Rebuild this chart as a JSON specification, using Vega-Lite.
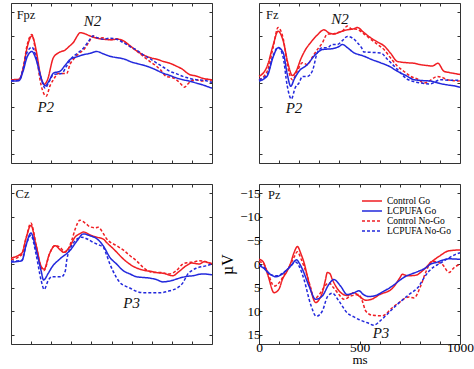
{
"$schema": "https://vega.github.io/schema/vega-lite/v6.json",
"padding": {"left": 7, "top": 2, "right": 0, "bottom": 0},
"autosize": {"type": "pad"},
"bounds": "flush",
"spacing": {"row": 21, "column": 47},
"columns": 2,
"resolve": {"scale": {"color": "independent", "strokeDash": "independent"}},
"datasets": {
"ann": [
{"p":"Fpz","k":"peak","t":406,"v":-13.2,"s":"N2"},
{"p":"Fpz","k":"peak","t":173,"v":5.1,"s":"P2"},
{"p":"Fz","k":"peak","t":403,"v":-13.6,"s":"N2"},
{"p":"Fz","k":"peak","t":174,"v":5.3,"s":"P2"},
{"p":"Cz","k":"peak","t":600,"v":8.3,"s":"P3"},
{"p":"Pz","k":"peak","t":607,"v":14.7,"s":"P3"},
{"p":"Fpz","k":"name","t":28,"v":-14.4,"s":"Fpz"},
{"p":"Fz","k":"name","t":35,"v":-14.4,"s":"Fz"},
{"p":"Cz","k":"name","t":23,"v":-14.9,"s":"Cz"},
{"p":"Pz","k":"name","t":45,"v":-14.7,"s":"Pz"}
],
"erp": [
{"p":"Fpz","c":"Control Go","t":0,"v":-0.7},{"p":"Fpz","c":"Control Go","t":40,"v":-0.8},{"p":"Fpz","c":"Control Go","t":60,"v":-3},{"p":"Fpz","c":"Control Go","t":80,"v":-7.5},{"p":"Fpz","c":"Control Go","t":104,"v":-10},{"p":"Fpz","c":"Control Go","t":125,"v":-7},{"p":"Fpz","c":"Control Go","t":145,"v":-2},{"p":"Fpz","c":"Control Go","t":165,"v":0.3},{"p":"Fpz","c":"Control Go","t":180,"v":-0.5},{"p":"Fpz","c":"Control Go","t":211,"v":-5.4},{"p":"Fpz","c":"Control Go","t":240,"v":-6.5},{"p":"Fpz","c":"Control Go","t":269,"v":-7},{"p":"Fpz","c":"Control Go","t":290,"v":-7.8},{"p":"Fpz","c":"Control Go","t":310,"v":-8.6},{"p":"Fpz","c":"Control Go","t":330,"v":-10},{"p":"Fpz","c":"Control Go","t":343,"v":-10.7},{"p":"Fpz","c":"Control Go","t":365,"v":-10.5},{"p":"Fpz","c":"Control Go","t":393,"v":-10},{"p":"Fpz","c":"Control Go","t":420,"v":-9.6},{"p":"Fpz","c":"Control Go","t":459,"v":-9.3},{"p":"Fpz","c":"Control Go","t":500,"v":-9.2},{"p":"Fpz","c":"Control Go","t":530,"v":-9.3},{"p":"Fpz","c":"Control Go","t":558,"v":-9},{"p":"Fpz","c":"Control Go","t":590,"v":-8},{"p":"Fpz","c":"Control Go","t":620,"v":-7},{"p":"Fpz","c":"Control Go","t":657,"v":-6},{"p":"Fpz","c":"Control Go","t":700,"v":-5.3},{"p":"Fpz","c":"Control Go","t":730,"v":-5},{"p":"Fpz","c":"Control Go","t":756,"v":-4.6},{"p":"Fpz","c":"Control Go","t":790,"v":-4.2},{"p":"Fpz","c":"Control Go","t":822,"v":-3.6},{"p":"Fpz","c":"Control Go","t":850,"v":-3},{"p":"Fpz","c":"Control Go","t":888,"v":-1.8},{"p":"Fpz","c":"Control Go","t":920,"v":-1.5},{"p":"Fpz","c":"Control Go","t":954,"v":-1},{"p":"Fpz","c":"Control Go","t":975,"v":-0.8},{"p":"Fpz","c":"Control Go","t":1000,"v":-0.7},
{"p":"Fpz","c":"Control No-Go","t":0,"v":-0.5},{"p":"Fpz","c":"Control No-Go","t":40,"v":-0.6},{"p":"Fpz","c":"Control No-Go","t":60,"v":-3},{"p":"Fpz","c":"Control No-Go","t":80,"v":-8},{"p":"Fpz","c":"Control No-Go","t":104,"v":-10.3},{"p":"Fpz","c":"Control No-Go","t":125,"v":-6},{"p":"Fpz","c":"Control No-Go","t":150,"v":0.5},{"p":"Fpz","c":"Control No-Go","t":175,"v":2.8},{"p":"Fpz","c":"Control No-Go","t":195,"v":0.5},{"p":"Fpz","c":"Control No-Go","t":211,"v":-0.7},{"p":"Fpz","c":"Control No-Go","t":236,"v":-2},{"p":"Fpz","c":"Control No-Go","t":260,"v":-2},{"p":"Fpz","c":"Control No-Go","t":277,"v":-2},{"p":"Fpz","c":"Control No-Go","t":294,"v":-4},{"p":"Fpz","c":"Control No-Go","t":310,"v":-5},{"p":"Fpz","c":"Control No-Go","t":335,"v":-6.2},{"p":"Fpz","c":"Control No-Go","t":360,"v":-7},{"p":"Fpz","c":"Control No-Go","t":385,"v":-8.5},{"p":"Fpz","c":"Control No-Go","t":409,"v":-10},{"p":"Fpz","c":"Control No-Go","t":430,"v":-9.5},{"p":"Fpz","c":"Control No-Go","t":459,"v":-9.6},{"p":"Fpz","c":"Control No-Go","t":490,"v":-9.2},{"p":"Fpz","c":"Control No-Go","t":525,"v":-9.4},{"p":"Fpz","c":"Control No-Go","t":560,"v":-8.8},{"p":"Fpz","c":"Control No-Go","t":591,"v":-7.8},{"p":"Fpz","c":"Control No-Go","t":625,"v":-6.8},{"p":"Fpz","c":"Control No-Go","t":657,"v":-5.7},{"p":"Fpz","c":"Control No-Go","t":690,"v":-4.6},{"p":"Fpz","c":"Control No-Go","t":723,"v":-3.6},{"p":"Fpz","c":"Control No-Go","t":750,"v":-2.5},{"p":"Fpz","c":"Control No-Go","t":772,"v":-1.4},{"p":"Fpz","c":"Control No-Go","t":800,"v":-1.2},{"p":"Fpz","c":"Control No-Go","t":822,"v":-0.7},{"p":"Fpz","c":"Control No-Go","t":845,"v":0.2},{"p":"Fpz","c":"Control No-Go","t":863,"v":0.9},{"p":"Fpz","c":"Control No-Go","t":880,"v":0.2},{"p":"Fpz","c":"Control No-Go","t":900,"v":-0.5},{"p":"Fpz","c":"Control No-Go","t":921,"v":-0.7},{"p":"Fpz","c":"Control No-Go","t":950,"v":-0.4},{"p":"Fpz","c":"Control No-Go","t":975,"v":-0.8},{"p":"Fpz","c":"Control No-Go","t":1000,"v":-0.4},
{"p":"Fpz","c":"LCPUFA Go","t":0,"v":-0.4},{"p":"Fpz","c":"LCPUFA Go","t":40,"v":-0.5},{"p":"Fpz","c":"LCPUFA Go","t":60,"v":-2.5},{"p":"Fpz","c":"LCPUFA Go","t":80,"v":-5.5},{"p":"Fpz","c":"LCPUFA Go","t":104,"v":-6.7},{"p":"Fpz","c":"LCPUFA Go","t":125,"v":-5},{"p":"Fpz","c":"LCPUFA Go","t":150,"v":-1},{"p":"Fpz","c":"LCPUFA Go","t":170,"v":0.6},{"p":"Fpz","c":"LCPUFA Go","t":190,"v":-0.5},{"p":"Fpz","c":"LCPUFA Go","t":211,"v":-2.1},{"p":"Fpz","c":"LCPUFA Go","t":244,"v":-2.5},{"p":"Fpz","c":"LCPUFA Go","t":270,"v":-3.8},{"p":"Fpz","c":"LCPUFA Go","t":294,"v":-5},{"p":"Fpz","c":"LCPUFA Go","t":330,"v":-5.6},{"p":"Fpz","c":"LCPUFA Go","t":360,"v":-6},{"p":"Fpz","c":"LCPUFA Go","t":393,"v":-6.3},{"p":"Fpz","c":"LCPUFA Go","t":426,"v":-6.7},{"p":"Fpz","c":"LCPUFA Go","t":459,"v":-6.2},{"p":"Fpz","c":"LCPUFA Go","t":492,"v":-5.7},{"p":"Fpz","c":"LCPUFA Go","t":525,"v":-5.4},{"p":"Fpz","c":"LCPUFA Go","t":541,"v":-5.3},{"p":"Fpz","c":"LCPUFA Go","t":570,"v":-5},{"p":"Fpz","c":"LCPUFA Go","t":591,"v":-4.6},{"p":"Fpz","c":"LCPUFA Go","t":630,"v":-4.1},{"p":"Fpz","c":"LCPUFA Go","t":673,"v":-3.6},{"p":"Fpz","c":"LCPUFA Go","t":710,"v":-3},{"p":"Fpz","c":"LCPUFA Go","t":756,"v":-2.1},{"p":"Fpz","c":"LCPUFA Go","t":790,"v":-1.6},{"p":"Fpz","c":"LCPUFA Go","t":822,"v":-1.1},{"p":"Fpz","c":"LCPUFA Go","t":855,"v":-0.7},{"p":"Fpz","c":"LCPUFA Go","t":888,"v":-0.4},{"p":"Fpz","c":"LCPUFA Go","t":921,"v":0},{"p":"Fpz","c":"LCPUFA Go","t":954,"v":0.4},{"p":"Fpz","c":"LCPUFA Go","t":980,"v":0.8},{"p":"Fpz","c":"LCPUFA Go","t":1000,"v":1.1},
{"p":"Fpz","c":"LCPUFA No-Go","t":0,"v":-0.5},{"p":"Fpz","c":"LCPUFA No-Go","t":40,"v":-0.6},{"p":"Fpz","c":"LCPUFA No-Go","t":60,"v":-3},{"p":"Fpz","c":"LCPUFA No-Go","t":80,"v":-6.5},{"p":"Fpz","c":"LCPUFA No-Go","t":104,"v":-7.6},{"p":"Fpz","c":"LCPUFA No-Go","t":125,"v":-5.5},{"p":"Fpz","c":"LCPUFA No-Go","t":150,"v":-1},{"p":"Fpz","c":"LCPUFA No-Go","t":170,"v":1.1},{"p":"Fpz","c":"LCPUFA No-Go","t":190,"v":-0.3},{"p":"Fpz","c":"LCPUFA No-Go","t":211,"v":-1.8},{"p":"Fpz","c":"LCPUFA No-Go","t":252,"v":-2},{"p":"Fpz","c":"LCPUFA No-Go","t":275,"v":-3.5},{"p":"Fpz","c":"LCPUFA No-Go","t":302,"v":-5.3},{"p":"Fpz","c":"LCPUFA No-Go","t":330,"v":-6.3},{"p":"Fpz","c":"LCPUFA No-Go","t":360,"v":-7.4},{"p":"Fpz","c":"LCPUFA No-Go","t":385,"v":-8.8},{"p":"Fpz","c":"LCPUFA No-Go","t":409,"v":-10},{"p":"Fpz","c":"LCPUFA No-Go","t":430,"v":-9.6},{"p":"Fpz","c":"LCPUFA No-Go","t":459,"v":-9.3},{"p":"Fpz","c":"LCPUFA No-Go","t":490,"v":-9.5},{"p":"Fpz","c":"LCPUFA No-Go","t":525,"v":-9.3},{"p":"Fpz","c":"LCPUFA No-Go","t":558,"v":-8.6},{"p":"Fpz","c":"LCPUFA No-Go","t":591,"v":-7.8},{"p":"Fpz","c":"LCPUFA No-Go","t":625,"v":-7},{"p":"Fpz","c":"LCPUFA No-Go","t":657,"v":-6},{"p":"Fpz","c":"LCPUFA No-Go","t":690,"v":-5.2},{"p":"Fpz","c":"LCPUFA No-Go","t":723,"v":-4.3},{"p":"Fpz","c":"LCPUFA No-Go","t":756,"v":-3.4},{"p":"Fpz","c":"LCPUFA No-Go","t":789,"v":-2.5},{"p":"Fpz","c":"LCPUFA No-Go","t":822,"v":-2},{"p":"Fpz","c":"LCPUFA No-Go","t":855,"v":-1.4},{"p":"Fpz","c":"LCPUFA No-Go","t":888,"v":-1},{"p":"Fpz","c":"LCPUFA No-Go","t":921,"v":-0.7},{"p":"Fpz","c":"LCPUFA No-Go","t":954,"v":-0.6},{"p":"Fpz","c":"LCPUFA No-Go","t":1000,"v":-0.1},
{"p":"Fz","c":"Control Go","t":0,"v":-1.4},{"p":"Fz","c":"Control Go","t":41,"v":-3.6},{"p":"Fz","c":"Control Go","t":70,"v":-8},{"p":"Fz","c":"Control Go","t":95,"v":-11},{"p":"Fz","c":"Control Go","t":120,"v":-9},{"p":"Fz","c":"Control Go","t":145,"v":-4},{"p":"Fz","c":"Control Go","t":166,"v":-1.6},{"p":"Fz","c":"Control Go","t":185,"v":-2.5},{"p":"Fz","c":"Control Go","t":207,"v":-5},{"p":"Fz","c":"Control Go","t":230,"v":-7},{"p":"Fz","c":"Control Go","t":257,"v":-8.6},{"p":"Fz","c":"Control Go","t":290,"v":-10.2},{"p":"Fz","c":"Control Go","t":323,"v":-11.3},{"p":"Fz","c":"Control Go","t":350,"v":-10.6},{"p":"Fz","c":"Control Go","t":373,"v":-10.4},{"p":"Fz","c":"Control Go","t":400,"v":-10.8},{"p":"Fz","c":"Control Go","t":439,"v":-11.3},{"p":"Fz","c":"Control Go","t":470,"v":-11.5},{"p":"Fz","c":"Control Go","t":489,"v":-11.8},{"p":"Fz","c":"Control Go","t":520,"v":-10.8},{"p":"Fz","c":"Control Go","t":556,"v":-9.6},{"p":"Fz","c":"Control Go","t":590,"v":-8.7},{"p":"Fz","c":"Control Go","t":622,"v":-7.9},{"p":"Fz","c":"Control Go","t":655,"v":-6.3},{"p":"Fz","c":"Control Go","t":688,"v":-4.6},{"p":"Fz","c":"Control Go","t":738,"v":-4.3},{"p":"Fz","c":"Control Go","t":771,"v":-4.2},{"p":"Fz","c":"Control Go","t":804,"v":-3.9},{"p":"Fz","c":"Control Go","t":840,"v":-3.7},{"p":"Fz","c":"Control Go","t":862,"v":-3.6},{"p":"Fz","c":"Control Go","t":890,"v":-4.2},{"p":"Fz","c":"Control Go","t":920,"v":-2.5},{"p":"Fz","c":"Control Go","t":950,"v":-2.2},{"p":"Fz","c":"Control Go","t":975,"v":-2},{"p":"Fz","c":"Control Go","t":1000,"v":-1.8},
{"p":"Fz","c":"Control No-Go","t":0,"v":-0.7},{"p":"Fz","c":"Control No-Go","t":41,"v":-2.5},{"p":"Fz","c":"Control No-Go","t":70,"v":-7.5},{"p":"Fz","c":"Control No-Go","t":95,"v":-11.8},{"p":"Fz","c":"Control No-Go","t":120,"v":-9.5},{"p":"Fz","c":"Control No-Go","t":145,"v":-3},{"p":"Fz","c":"Control No-Go","t":166,"v":-0.7},{"p":"Fz","c":"Control No-Go","t":190,"v":-2.5},{"p":"Fz","c":"Control No-Go","t":216,"v":-4.3},{"p":"Fz","c":"Control No-Go","t":240,"v":-3.9},{"p":"Fz","c":"Control No-Go","t":265,"v":-5.5},{"p":"Fz","c":"Control No-Go","t":290,"v":-7.1},{"p":"Fz","c":"Control No-Go","t":315,"v":-8.5},{"p":"Fz","c":"Control No-Go","t":340,"v":-10.4},{"p":"Fz","c":"Control No-Go","t":365,"v":-10.4},{"p":"Fz","c":"Control No-Go","t":390,"v":-10.7},{"p":"Fz","c":"Control No-Go","t":415,"v":-11},{"p":"Fz","c":"Control No-Go","t":439,"v":-12.1},{"p":"Fz","c":"Control No-Go","t":460,"v":-11.5},{"p":"Fz","c":"Control No-Go","t":489,"v":-11.4},{"p":"Fz","c":"Control No-Go","t":520,"v":-10.5},{"p":"Fz","c":"Control No-Go","t":556,"v":-9.3},{"p":"Fz","c":"Control No-Go","t":590,"v":-8.2},{"p":"Fz","c":"Control No-Go","t":622,"v":-7.1},{"p":"Fz","c":"Control No-Go","t":655,"v":-5.3},{"p":"Fz","c":"Control No-Go","t":688,"v":-3.6},{"p":"Fz","c":"Control No-Go","t":720,"v":-2.5},{"p":"Fz","c":"Control No-Go","t":755,"v":-1.4},{"p":"Fz","c":"Control No-Go","t":790,"v":-0.8},{"p":"Fz","c":"Control No-Go","t":821,"v":0},{"p":"Fz","c":"Control No-Go","t":850,"v":-0.5},{"p":"Fz","c":"Control No-Go","t":887,"v":-1.4},{"p":"Fz","c":"Control No-Go","t":910,"v":-1.2},{"p":"Fz","c":"Control No-Go","t":937,"v":-0.7},{"p":"Fz","c":"Control No-Go","t":970,"v":-0.5},{"p":"Fz","c":"Control No-Go","t":1000,"v":-0.4},
{"p":"Fz","c":"LCPUFA Go","t":0,"v":-0.4},{"p":"Fz","c":"LCPUFA Go","t":41,"v":-1.5},{"p":"Fz","c":"LCPUFA Go","t":70,"v":-5.5},{"p":"Fz","c":"LCPUFA Go","t":95,"v":-7.5},{"p":"Fz","c":"LCPUFA Go","t":120,"v":-6.5},{"p":"Fz","c":"LCPUFA Go","t":140,"v":-2},{"p":"Fz","c":"LCPUFA Go","t":158,"v":0.7},{"p":"Fz","c":"LCPUFA Go","t":175,"v":-0.8},{"p":"Fz","c":"LCPUFA Go","t":199,"v":-2.5},{"p":"Fz","c":"LCPUFA Go","t":240,"v":-3.9},{"p":"Fz","c":"LCPUFA Go","t":280,"v":-6},{"p":"Fz","c":"LCPUFA Go","t":315,"v":-7.1},{"p":"Fz","c":"LCPUFA Go","t":365,"v":-7.3},{"p":"Fz","c":"LCPUFA Go","t":400,"v":-7.8},{"p":"Fz","c":"LCPUFA Go","t":415,"v":-8.2},{"p":"Fz","c":"LCPUFA Go","t":440,"v":-7.5},{"p":"Fz","c":"LCPUFA Go","t":473,"v":-6.4},{"p":"Fz","c":"LCPUFA Go","t":500,"v":-6},{"p":"Fz","c":"LCPUFA Go","t":522,"v":-5.7},{"p":"Fz","c":"LCPUFA Go","t":560,"v":-5},{"p":"Fz","c":"LCPUFA Go","t":605,"v":-4.3},{"p":"Fz","c":"LCPUFA Go","t":650,"v":-3.5},{"p":"Fz","c":"LCPUFA Go","t":688,"v":-2.5},{"p":"Fz","c":"LCPUFA Go","t":730,"v":-1.6},{"p":"Fz","c":"LCPUFA Go","t":771,"v":-0.7},{"p":"Fz","c":"LCPUFA Go","t":820,"v":-0.5},{"p":"Fz","c":"LCPUFA Go","t":854,"v":-0.4},{"p":"Fz","c":"LCPUFA Go","t":900,"v":0.1},{"p":"Fz","c":"LCPUFA Go","t":937,"v":0.4},{"p":"Fz","c":"LCPUFA Go","t":970,"v":0.6},{"p":"Fz","c":"LCPUFA Go","t":1000,"v":0.9},
{"p":"Fz","c":"LCPUFA No-Go","t":0,"v":-0.7},{"p":"Fz","c":"LCPUFA No-Go","t":41,"v":-1.8},{"p":"Fz","c":"LCPUFA No-Go","t":70,"v":-5.8},{"p":"Fz","c":"LCPUFA No-Go","t":95,"v":-7.6},{"p":"Fz","c":"LCPUFA No-Go","t":120,"v":-5.5},{"p":"Fz","c":"LCPUFA No-Go","t":140,"v":0.5},{"p":"Fz","c":"LCPUFA No-Go","t":161,"v":3.4},{"p":"Fz","c":"LCPUFA No-Go","t":180,"v":1},{"p":"Fz","c":"LCPUFA No-Go","t":199,"v":0},{"p":"Fz","c":"LCPUFA No-Go","t":216,"v":-1.4},{"p":"Fz","c":"LCPUFA No-Go","t":240,"v":-1.4},{"p":"Fz","c":"LCPUFA No-Go","t":265,"v":-2.5},{"p":"Fz","c":"LCPUFA No-Go","t":290,"v":-6.4},{"p":"Fz","c":"LCPUFA No-Go","t":315,"v":-7.5},{"p":"Fz","c":"LCPUFA No-Go","t":340,"v":-7.5},{"p":"Fz","c":"LCPUFA No-Go","t":365,"v":-8.2},{"p":"Fz","c":"LCPUFA No-Go","t":390,"v":-8.2},{"p":"Fz","c":"LCPUFA No-Go","t":415,"v":-9},{"p":"Fz","c":"LCPUFA No-Go","t":439,"v":-9.9},{"p":"Fz","c":"LCPUFA No-Go","t":470,"v":-9.4},{"p":"Fz","c":"LCPUFA No-Go","t":489,"v":-8.6},{"p":"Fz","c":"LCPUFA No-Go","t":510,"v":-7.5},{"p":"Fz","c":"LCPUFA No-Go","t":522,"v":-6.6},{"p":"Fz","c":"LCPUFA No-Go","t":560,"v":-6.5},{"p":"Fz","c":"LCPUFA No-Go","t":605,"v":-6.4},{"p":"Fz","c":"LCPUFA No-Go","t":640,"v":-5},{"p":"Fz","c":"LCPUFA No-Go","t":688,"v":-2.9},{"p":"Fz","c":"LCPUFA No-Go","t":738,"v":-0.8},{"p":"Fz","c":"LCPUFA No-Go","t":771,"v":-0.3},{"p":"Fz","c":"LCPUFA No-Go","t":804,"v":0},{"p":"Fz","c":"LCPUFA No-Go","t":850,"v":0.2},{"p":"Fz","c":"LCPUFA No-Go","t":904,"v":-0.7},{"p":"Fz","c":"LCPUFA No-Go","t":950,"v":-0.6},{"p":"Fz","c":"LCPUFA No-Go","t":1000,"v":-0.6},
{"p":"Cz","c":"Control Go","t":0,"v":-1.3},{"p":"Cz","c":"Control Go","t":54,"v":-2.3},{"p":"Cz","c":"Control Go","t":75,"v":-5.5},{"p":"Cz","c":"Control Go","t":99,"v":-8.2},{"p":"Cz","c":"Control Go","t":125,"v":-4},{"p":"Cz","c":"Control Go","t":150,"v":0.5},{"p":"Cz","c":"Control Go","t":165,"v":1.1},{"p":"Cz","c":"Control Go","t":190,"v":-2},{"p":"Cz","c":"Control Go","t":219,"v":-3.9},{"p":"Cz","c":"Control Go","t":245,"v":-3},{"p":"Cz","c":"Control Go","t":261,"v":-2.5},{"p":"Cz","c":"Control Go","t":290,"v":-3.5},{"p":"Cz","c":"Control Go","t":318,"v":-5.7},{"p":"Cz","c":"Control Go","t":345,"v":-6.5},{"p":"Cz","c":"Control Go","t":360,"v":-6.8},{"p":"Cz","c":"Control Go","t":393,"v":-6.2},{"p":"Cz","c":"Control Go","t":426,"v":-5.7},{"p":"Cz","c":"Control Go","t":459,"v":-5.3},{"p":"Cz","c":"Control Go","t":475,"v":-4.6},{"p":"Cz","c":"Control Go","t":510,"v":-3.2},{"p":"Cz","c":"Control Go","t":558,"v":-1.1},{"p":"Cz","c":"Control Go","t":600,"v":0.3},{"p":"Cz","c":"Control Go","t":657,"v":1.3},{"p":"Cz","c":"Control Go","t":700,"v":1.6},{"p":"Cz","c":"Control Go","t":723,"v":1.8},{"p":"Cz","c":"Control Go","t":760,"v":2},{"p":"Cz","c":"Control Go","t":805,"v":2.5},{"p":"Cz","c":"Control Go","t":830,"v":1.8},{"p":"Cz","c":"Control Go","t":871,"v":0.4},{"p":"Cz","c":"Control Go","t":900,"v":-0.2},{"p":"Cz","c":"Control Go","t":937,"v":0},{"p":"Cz","c":"Control Go","t":962,"v":-0.5},{"p":"Cz","c":"Control Go","t":980,"v":-0.3},{"p":"Cz","c":"Control Go","t":1000,"v":-0.1},
{"p":"Cz","c":"Control No-Go","t":0,"v":-0.9},{"p":"Cz","c":"Control No-Go","t":54,"v":-2},{"p":"Cz","c":"Control No-Go","t":75,"v":-5.5},{"p":"Cz","c":"Control No-Go","t":99,"v":-8.7},{"p":"Cz","c":"Control No-Go","t":125,"v":-4},{"p":"Cz","c":"Control No-Go","t":150,"v":0.8},{"p":"Cz","c":"Control No-Go","t":165,"v":1.4},{"p":"Cz","c":"Control No-Go","t":190,"v":-2},{"p":"Cz","c":"Control No-Go","t":219,"v":-3.9},{"p":"Cz","c":"Control No-Go","t":245,"v":-3.5},{"p":"Cz","c":"Control No-Go","t":269,"v":-2.5},{"p":"Cz","c":"Control No-Go","t":302,"v":-5},{"p":"Cz","c":"Control No-Go","t":320,"v":-7.5},{"p":"Cz","c":"Control No-Go","t":343,"v":-9.3},{"p":"Cz","c":"Control No-Go","t":375,"v":-8.5},{"p":"Cz","c":"Control No-Go","t":393,"v":-7.9},{"p":"Cz","c":"Control No-Go","t":420,"v":-7.7},{"p":"Cz","c":"Control No-Go","t":434,"v":-7.8},{"p":"Cz","c":"Control No-Go","t":459,"v":-6.5},{"p":"Cz","c":"Control No-Go","t":475,"v":-5.4},{"p":"Cz","c":"Control No-Go","t":525,"v":-3.9},{"p":"Cz","c":"Control No-Go","t":558,"v":-3},{"p":"Cz","c":"Control No-Go","t":591,"v":-1.8},{"p":"Cz","c":"Control No-Go","t":624,"v":-0.7},{"p":"Cz","c":"Control No-Go","t":657,"v":0.7},{"p":"Cz","c":"Control No-Go","t":690,"v":1.6},{"p":"Cz","c":"Control No-Go","t":706,"v":1.8},{"p":"Cz","c":"Control No-Go","t":740,"v":1.8},{"p":"Cz","c":"Control No-Go","t":789,"v":2.1},{"p":"Cz","c":"Control No-Go","t":820,"v":1.5},{"p":"Cz","c":"Control No-Go","t":855,"v":0},{"p":"Cz","c":"Control No-Go","t":880,"v":-0.3},{"p":"Cz","c":"Control No-Go","t":904,"v":-0.4},{"p":"Cz","c":"Control No-Go","t":937,"v":-0.7},{"p":"Cz","c":"Control No-Go","t":970,"v":-0.5},{"p":"Cz","c":"Control No-Go","t":1000,"v":0},
{"p":"Cz","c":"LCPUFA Go","t":0,"v":-0.4},{"p":"Cz","c":"LCPUFA Go","t":54,"v":-0.7},{"p":"Cz","c":"LCPUFA Go","t":75,"v":-4},{"p":"Cz","c":"LCPUFA Go","t":99,"v":-6.6},{"p":"Cz","c":"LCPUFA Go","t":125,"v":-3},{"p":"Cz","c":"LCPUFA Go","t":150,"v":1.5},{"p":"Cz","c":"LCPUFA Go","t":162,"v":3.4},{"p":"Cz","c":"LCPUFA Go","t":185,"v":2},{"p":"Cz","c":"LCPUFA Go","t":203,"v":0.7},{"p":"Cz","c":"LCPUFA Go","t":244,"v":-1.1},{"p":"Cz","c":"LCPUFA Go","t":294,"v":-2.9},{"p":"Cz","c":"LCPUFA Go","t":330,"v":-5},{"p":"Cz","c":"LCPUFA Go","t":360,"v":-6.4},{"p":"Cz","c":"LCPUFA Go","t":393,"v":-6},{"p":"Cz","c":"LCPUFA Go","t":426,"v":-5.4},{"p":"Cz","c":"LCPUFA Go","t":460,"v":-3.8},{"p":"Cz","c":"LCPUFA Go","t":492,"v":-1.4},{"p":"Cz","c":"LCPUFA Go","t":525,"v":0},{"p":"Cz","c":"LCPUFA Go","t":558,"v":1.4},{"p":"Cz","c":"LCPUFA Go","t":591,"v":2.1},{"p":"Cz","c":"LCPUFA Go","t":624,"v":2.7},{"p":"Cz","c":"LCPUFA Go","t":690,"v":3},{"p":"Cz","c":"LCPUFA Go","t":723,"v":3.3},{"p":"Cz","c":"LCPUFA Go","t":756,"v":3.8},{"p":"Cz","c":"LCPUFA Go","t":800,"v":3.5},{"p":"Cz","c":"LCPUFA Go","t":838,"v":3},{"p":"Cz","c":"LCPUFA Go","t":880,"v":2.6},{"p":"Cz","c":"LCPUFA Go","t":904,"v":2.5},{"p":"Cz","c":"LCPUFA Go","t":954,"v":2.1},{"p":"Cz","c":"LCPUFA Go","t":1000,"v":2.3},
{"p":"Cz","c":"LCPUFA No-Go","t":0,"v":-0.6},{"p":"Cz","c":"LCPUFA No-Go","t":54,"v":-0.8},{"p":"Cz","c":"LCPUFA No-Go","t":75,"v":-4},{"p":"Cz","c":"LCPUFA No-Go","t":99,"v":-6.1},{"p":"Cz","c":"LCPUFA No-Go","t":125,"v":-2},{"p":"Cz","c":"LCPUFA No-Go","t":150,"v":3.5},{"p":"Cz","c":"LCPUFA No-Go","t":165,"v":5.4},{"p":"Cz","c":"LCPUFA No-Go","t":185,"v":3.5},{"p":"Cz","c":"LCPUFA No-Go","t":203,"v":2.7},{"p":"Cz","c":"LCPUFA No-Go","t":230,"v":2.7},{"p":"Cz","c":"LCPUFA No-Go","t":252,"v":2.7},{"p":"Cz","c":"LCPUFA No-Go","t":270,"v":1.5},{"p":"Cz","c":"LCPUFA No-Go","t":277,"v":-0.7},{"p":"Cz","c":"LCPUFA No-Go","t":302,"v":-3.9},{"p":"Cz","c":"LCPUFA No-Go","t":351,"v":-5.7},{"p":"Cz","c":"LCPUFA No-Go","t":380,"v":-5.3},{"p":"Cz","c":"LCPUFA No-Go","t":409,"v":-4.6},{"p":"Cz","c":"LCPUFA No-Go","t":440,"v":-4},{"p":"Cz","c":"LCPUFA No-Go","t":459,"v":-3.6},{"p":"Cz","c":"LCPUFA No-Go","t":475,"v":-2},{"p":"Cz","c":"LCPUFA No-Go","t":492,"v":0},{"p":"Cz","c":"LCPUFA No-Go","t":520,"v":2.5},{"p":"Cz","c":"LCPUFA No-Go","t":541,"v":3.9},{"p":"Cz","c":"LCPUFA No-Go","t":575,"v":4.8},{"p":"Cz","c":"LCPUFA No-Go","t":591,"v":5.1},{"p":"Cz","c":"LCPUFA No-Go","t":624,"v":5.8},{"p":"Cz","c":"LCPUFA No-Go","t":657,"v":6.1},{"p":"Cz","c":"LCPUFA No-Go","t":700,"v":6.1},{"p":"Cz","c":"LCPUFA No-Go","t":739,"v":6.1},{"p":"Cz","c":"LCPUFA No-Go","t":789,"v":5.7},{"p":"Cz","c":"LCPUFA No-Go","t":830,"v":5},{"p":"Cz","c":"LCPUFA No-Go","t":855,"v":4},{"p":"Cz","c":"LCPUFA No-Go","t":880,"v":2.1},{"p":"Cz","c":"LCPUFA No-Go","t":900,"v":1.4},{"p":"Cz","c":"LCPUFA No-Go","t":921,"v":0.9},{"p":"Cz","c":"LCPUFA No-Go","t":970,"v":0.4},{"p":"Cz","c":"LCPUFA No-Go","t":1000,"v":0},
{"p":"Pz","c":"Control Go","t":0,"v":-1},{"p":"Pz","c":"Control Go","t":20,"v":-0.5},{"p":"Pz","c":"Control Go","t":45,"v":2.5},{"p":"Pz","c":"Control Go","t":75,"v":6.1},{"p":"Pz","c":"Control Go","t":100,"v":5.3},{"p":"Pz","c":"Control Go","t":116,"v":3.3},{"p":"Pz","c":"Control Go","t":140,"v":1.5},{"p":"Pz","c":"Control Go","t":158,"v":-0.3},{"p":"Pz","c":"Control Go","t":175,"v":-2.5},{"p":"Pz","c":"Control Go","t":191,"v":-3.7},{"p":"Pz","c":"Control Go","t":210,"v":-2},{"p":"Pz","c":"Control Go","t":224,"v":-0.3},{"p":"Pz","c":"Control Go","t":240,"v":2.5},{"p":"Pz","c":"Control Go","t":257,"v":5.4},{"p":"Pz","c":"Control Go","t":282,"v":8.2},{"p":"Pz","c":"Control Go","t":300,"v":7.5},{"p":"Pz","c":"Control Go","t":315,"v":6.1},{"p":"Pz","c":"Control Go","t":330,"v":3.5},{"p":"Pz","c":"Control Go","t":340,"v":1.8},{"p":"Pz","c":"Control Go","t":352,"v":2},{"p":"Pz","c":"Control Go","t":365,"v":3.3},{"p":"Pz","c":"Control Go","t":398,"v":5.7},{"p":"Pz","c":"Control Go","t":439,"v":6.7},{"p":"Pz","c":"Control Go","t":473,"v":6.1},{"p":"Pz","c":"Control Go","t":497,"v":6.8},{"p":"Pz","c":"Control Go","t":531,"v":7.7},{"p":"Pz","c":"Control Go","t":560,"v":7.5},{"p":"Pz","c":"Control Go","t":600,"v":6.5},{"p":"Pz","c":"Control Go","t":663,"v":5.2},{"p":"Pz","c":"Control Go","t":700,"v":3},{"p":"Pz","c":"Control Go","t":713,"v":2.2},{"p":"Pz","c":"Control Go","t":740,"v":2.5},{"p":"Pz","c":"Control Go","t":779,"v":2.4},{"p":"Pz","c":"Control Go","t":812,"v":1.5},{"p":"Pz","c":"Control Go","t":854,"v":-0.3},{"p":"Pz","c":"Control Go","t":895,"v":-1.6},{"p":"Pz","c":"Control Go","t":945,"v":-2.8},{"p":"Pz","c":"Control Go","t":1000,"v":-3},
{"p":"Pz","c":"Control No-Go","t":0,"v":-0.5},{"p":"Pz","c":"Control No-Go","t":20,"v":-0.2},{"p":"Pz","c":"Control No-Go","t":45,"v":2},{"p":"Pz","c":"Control No-Go","t":75,"v":4.7},{"p":"Pz","c":"Control No-Go","t":100,"v":4},{"p":"Pz","c":"Control No-Go","t":125,"v":2.3},{"p":"Pz","c":"Control No-Go","t":158,"v":0},{"p":"Pz","c":"Control No-Go","t":175,"v":-1.5},{"p":"Pz","c":"Control No-Go","t":191,"v":-2.6},{"p":"Pz","c":"Control No-Go","t":210,"v":-1},{"p":"Pz","c":"Control No-Go","t":232,"v":1.5},{"p":"Pz","c":"Control No-Go","t":257,"v":5},{"p":"Pz","c":"Control No-Go","t":274,"v":7.4},{"p":"Pz","c":"Control No-Go","t":300,"v":6.5},{"p":"Pz","c":"Control No-Go","t":315,"v":5.5},{"p":"Pz","c":"Control No-Go","t":348,"v":4},{"p":"Pz","c":"Control No-Go","t":370,"v":5},{"p":"Pz","c":"Control No-Go","t":398,"v":6.5},{"p":"Pz","c":"Control No-Go","t":423,"v":7.5},{"p":"Pz","c":"Control No-Go","t":456,"v":6.8},{"p":"Pz","c":"Control No-Go","t":497,"v":6.5},{"p":"Pz","c":"Control No-Go","t":515,"v":8},{"p":"Pz","c":"Control No-Go","t":531,"v":10},{"p":"Pz","c":"Control No-Go","t":564,"v":10.9},{"p":"Pz","c":"Control No-Go","t":614,"v":11},{"p":"Pz","c":"Control No-Go","t":663,"v":9.3},{"p":"Pz","c":"Control No-Go","t":696,"v":8.2},{"p":"Pz","c":"Control No-Go","t":746,"v":7},{"p":"Pz","c":"Control No-Go","t":771,"v":7.2},{"p":"Pz","c":"Control No-Go","t":804,"v":4.7},{"p":"Pz","c":"Control No-Go","t":829,"v":1.8},{"p":"Pz","c":"Control No-Go","t":862,"v":-0.6},{"p":"Pz","c":"Control No-Go","t":912,"v":0.1},{"p":"Pz","c":"Control No-Go","t":945,"v":1.8},{"p":"Pz","c":"Control No-Go","t":970,"v":0.8},{"p":"Pz","c":"Control No-Go","t":1000,"v":0},
{"p":"Pz","c":"LCPUFA Go","t":0,"v":0.3},{"p":"Pz","c":"LCPUFA Go","t":20,"v":0.8},{"p":"Pz","c":"LCPUFA Go","t":50,"v":2},{"p":"Pz","c":"LCPUFA Go","t":83,"v":2.7},{"p":"Pz","c":"LCPUFA Go","t":110,"v":2.3},{"p":"Pz","c":"LCPUFA Go","t":133,"v":1.5},{"p":"Pz","c":"LCPUFA Go","t":160,"v":0.3},{"p":"Pz","c":"LCPUFA Go","t":187,"v":-0.9},{"p":"Pz","c":"LCPUFA Go","t":200,"v":-0.2},{"p":"Pz","c":"LCPUFA Go","t":216,"v":1.1},{"p":"Pz","c":"LCPUFA Go","t":249,"v":4.7},{"p":"Pz","c":"LCPUFA Go","t":282,"v":7.5},{"p":"Pz","c":"LCPUFA Go","t":315,"v":6.8},{"p":"Pz","c":"LCPUFA Go","t":348,"v":4.3},{"p":"Pz","c":"LCPUFA Go","t":373,"v":3.3},{"p":"Pz","c":"LCPUFA Go","t":406,"v":4.7},{"p":"Pz","c":"LCPUFA Go","t":439,"v":6.5},{"p":"Pz","c":"LCPUFA Go","t":473,"v":6.1},{"p":"Pz","c":"LCPUFA Go","t":497,"v":5.7},{"p":"Pz","c":"LCPUFA Go","t":520,"v":6.5},{"p":"Pz","c":"LCPUFA Go","t":547,"v":6.9},{"p":"Pz","c":"LCPUFA Go","t":580,"v":6.7},{"p":"Pz","c":"LCPUFA Go","t":620,"v":5.8},{"p":"Pz","c":"LCPUFA Go","t":663,"v":4.7},{"p":"Pz","c":"LCPUFA Go","t":696,"v":3.6},{"p":"Pz","c":"LCPUFA Go","t":730,"v":2.6},{"p":"Pz","c":"LCPUFA Go","t":760,"v":2.1},{"p":"Pz","c":"LCPUFA Go","t":796,"v":1.5},{"p":"Pz","c":"LCPUFA Go","t":830,"v":0.8},{"p":"Pz","c":"LCPUFA Go","t":854,"v":0},{"p":"Pz","c":"LCPUFA Go","t":880,"v":-0.3},{"p":"Pz","c":"LCPUFA Go","t":912,"v":-0.8},{"p":"Pz","c":"LCPUFA Go","t":945,"v":-1.1},{"p":"Pz","c":"LCPUFA Go","t":1000,"v":-1},
{"p":"Pz","c":"LCPUFA No-Go","t":0,"v":0.3},{"p":"Pz","c":"LCPUFA No-Go","t":20,"v":0.5},{"p":"Pz","c":"LCPUFA No-Go","t":40,"v":1.5},{"p":"Pz","c":"LCPUFA No-Go","t":66,"v":2.4},{"p":"Pz","c":"LCPUFA No-Go","t":90,"v":2.5},{"p":"Pz","c":"LCPUFA No-Go","t":116,"v":2},{"p":"Pz","c":"LCPUFA No-Go","t":150,"v":0.8},{"p":"Pz","c":"LCPUFA No-Go","t":182,"v":-0.4},{"p":"Pz","c":"LCPUFA No-Go","t":200,"v":0.5},{"p":"Pz","c":"LCPUFA No-Go","t":224,"v":3.3},{"p":"Pz","c":"LCPUFA No-Go","t":257,"v":8.6},{"p":"Pz","c":"LCPUFA No-Go","t":285,"v":11.1},{"p":"Pz","c":"LCPUFA No-Go","t":315,"v":10},{"p":"Pz","c":"LCPUFA No-Go","t":340,"v":7},{"p":"Pz","c":"LCPUFA No-Go","t":365,"v":6.2},{"p":"Pz","c":"LCPUFA No-Go","t":398,"v":7.9},{"p":"Pz","c":"LCPUFA No-Go","t":439,"v":10.4},{"p":"Pz","c":"LCPUFA No-Go","t":470,"v":11.2},{"p":"Pz","c":"LCPUFA No-Go","t":497,"v":11.8},{"p":"Pz","c":"LCPUFA No-Go","t":540,"v":12.5},{"p":"Pz","c":"LCPUFA No-Go","t":572,"v":13},{"p":"Pz","c":"LCPUFA No-Go","t":600,"v":12.2},{"p":"Pz","c":"LCPUFA No-Go","t":630,"v":11},{"p":"Pz","c":"LCPUFA No-Go","t":680,"v":8.9},{"p":"Pz","c":"LCPUFA No-Go","t":746,"v":6.5},{"p":"Pz","c":"LCPUFA No-Go","t":796,"v":4.7},{"p":"Pz","c":"LCPUFA No-Go","t":820,"v":3},{"p":"Pz","c":"LCPUFA No-Go","t":846,"v":1.5},{"p":"Pz","c":"LCPUFA No-Go","t":870,"v":0.6},{"p":"Pz","c":"LCPUFA No-Go","t":895,"v":0},{"p":"Pz","c":"LCPUFA No-Go","t":945,"v":-1.3},{"p":"Pz","c":"LCPUFA No-Go","t":975,"v":-2},{"p":"Pz","c":"LCPUFA No-Go","t":1000,"v":-2.4}
]
},
"concat": [
{
"width": 201, "height": 160,
"layer": [
{"mark": {"type": "rule", "color": "#555", "strokeWidth": 1}, "encoding": {"y": {"datum": 0, "type": "quantitative", "scale": {"domain": [-17, 17], "reverse": true, "nice": false, "zero": false}, "axis": {"orient": "right", "values": [-15,-10,-5,0,5,10,15], "labels": false, "title": null}}}},
{"data": {"name": "erp"}, "transform": [{"filter": "datum.p === 'Fpz'"}],
 "mark": {"type": "line", "interpolate": "monotone", "strokeWidth": 1.5},
 "encoding": {
  "x": {"field": "t", "type": "quantitative", "scale": {"domain": [0, 1000], "nice": false}, "axis": {"orient": "bottom", "values": [0,100,200,300,400,500,600,700,800,900,1000], "labels": false, "title": null}},
  "y": {"field": "v", "type": "quantitative", "axis": {"orient": "left", "values": [-15,-10,-5,0,5,10,15], "labels": false, "title": null}},
  "color": {"field": "c", "type": "nominal", "scale": {"domain": ["Control Go","LCPUFA Go","Control No-Go","LCPUFA No-Go"], "range": ["#f01e23","#2228dc","#f01e23","#2228dc"]}, "legend": null},
  "strokeDash": {"field": "c", "type": "nominal", "scale": {"domain": ["Control Go","LCPUFA Go","Control No-Go","LCPUFA No-Go"], "range": [[1,0],[1,0],[3,2],[3,2]]}, "legend": null}
 }},
{"data": {"name": "ann"}, "transform": [{"filter": "datum.p === 'Fpz' && datum.k === 'peak'"}],
 "mark": {"type": "text", "font": "Liberation Serif", "fontStyle": "italic", "fontSize": 15, "color": "#111"},
 "encoding": {
  "x": {"field": "t", "type": "quantitative", "axis": {"orient": "top", "values": [0,100,200,300,400,500,600,700,800,900,1000], "labels": false, "title": null}},
  "y": {"field": "v", "type": "quantitative", "axis": null},
  "text": {"field": "s"}
 }},
{"data": {"name": "ann"}, "transform": [{"filter": "datum.p === 'Fpz' && datum.k === 'name'"}],
 "mark": {"type": "text", "font": "Liberation Serif", "fontSize": 12.5, "align": "left", "color": "#111"},
 "encoding": {
  "x": {"field": "t", "type": "quantitative", "axis": null},
  "y": {"field": "v", "type": "quantitative", "axis": null},
  "text": {"field": "s"}
 }}
],
"resolve": {"axis": {"x": "independent", "y": "independent"}}
},
{
"width": 201, "height": 160,
"layer": [
{"mark": {"type": "rule", "color": "#555", "strokeWidth": 1}, "encoding": {"y": {"datum": 0, "type": "quantitative", "scale": {"domain": [-17, 17], "reverse": true, "nice": false, "zero": false}, "axis": {"orient": "right", "values": [-15,-10,-5,0,5,10,15], "labels": false, "title": null}}}},
{"data": {"name": "erp"}, "transform": [{"filter": "datum.p === 'Fz'"}],
 "mark": {"type": "line", "interpolate": "monotone", "strokeWidth": 1.5},
 "encoding": {
  "x": {"field": "t", "type": "quantitative", "scale": {"domain": [0, 1000], "nice": false}, "axis": {"orient": "bottom", "values": [0,100,200,300,400,500,600,700,800,900,1000], "labels": false, "title": null}},
  "y": {"field": "v", "type": "quantitative", "axis": {"orient": "left", "values": [-15,-10,-5,0,5,10,15], "labels": false, "title": null}},
  "color": {"field": "c", "type": "nominal", "scale": {"domain": ["Control Go","LCPUFA Go","Control No-Go","LCPUFA No-Go"], "range": ["#f01e23","#2228dc","#f01e23","#2228dc"]}, "legend": null},
  "strokeDash": {"field": "c", "type": "nominal", "scale": {"domain": ["Control Go","LCPUFA Go","Control No-Go","LCPUFA No-Go"], "range": [[1,0],[1,0],[3,2],[3,2]]}, "legend": null}
 }},
{"data": {"name": "ann"}, "transform": [{"filter": "datum.p === 'Fz' && datum.k === 'peak'"}],
 "mark": {"type": "text", "font": "Liberation Serif", "fontStyle": "italic", "fontSize": 15, "color": "#111"},
 "encoding": {
  "x": {"field": "t", "type": "quantitative", "axis": {"orient": "top", "values": [0,100,200,300,400,500,600,700,800,900,1000], "labels": false, "title": null}},
  "y": {"field": "v", "type": "quantitative", "axis": null},
  "text": {"field": "s"}
 }},
{"data": {"name": "ann"}, "transform": [{"filter": "datum.p === 'Fz' && datum.k === 'name'"}],
 "mark": {"type": "text", "font": "Liberation Serif", "fontSize": 12.5, "align": "left", "color": "#111"},
 "encoding": {
  "x": {"field": "t", "type": "quantitative", "axis": null},
  "y": {"field": "v", "type": "quantitative", "axis": null},
  "text": {"field": "s"}
 }}
],
"resolve": {"axis": {"x": "independent", "y": "independent"}}
},
{
"width": 201, "height": 160,
"layer": [
{"mark": {"type": "rule", "color": "#555", "strokeWidth": 1}, "encoding": {"y": {"datum": 0, "type": "quantitative", "scale": {"domain": [-17, 17], "reverse": true, "nice": false, "zero": false}, "axis": {"orient": "right", "values": [-15,-10,-5,0,5,10,15], "labels": false, "title": null}}}},
{"data": {"name": "erp"}, "transform": [{"filter": "datum.p === 'Cz'"}],
 "mark": {"type": "line", "interpolate": "monotone", "strokeWidth": 1.5},
 "encoding": {
  "x": {"field": "t", "type": "quantitative", "scale": {"domain": [0, 1000], "nice": false}, "axis": {"orient": "bottom", "values": [0,100,200,300,400,500,600,700,800,900,1000], "labels": false, "title": null}},
  "y": {"field": "v", "type": "quantitative", "axis": {"orient": "left", "values": [-15,-10,-5,0,5,10,15], "labels": false, "title": null}},
  "color": {"field": "c", "type": "nominal", "scale": {"domain": ["Control Go","LCPUFA Go","Control No-Go","LCPUFA No-Go"], "range": ["#f01e23","#2228dc","#f01e23","#2228dc"]}, "legend": null},
  "strokeDash": {"field": "c", "type": "nominal", "scale": {"domain": ["Control Go","LCPUFA Go","Control No-Go","LCPUFA No-Go"], "range": [[1,0],[1,0],[3,2],[3,2]]}, "legend": null}
 }},
{"data": {"name": "ann"}, "transform": [{"filter": "datum.p === 'Cz' && datum.k === 'peak'"}],
 "mark": {"type": "text", "font": "Liberation Serif", "fontStyle": "italic", "fontSize": 15, "color": "#111"},
 "encoding": {
  "x": {"field": "t", "type": "quantitative", "axis": {"orient": "top", "values": [0,100,200,300,400,500,600,700,800,900,1000], "labels": false, "title": null}},
  "y": {"field": "v", "type": "quantitative", "axis": null},
  "text": {"field": "s"}
 }},
{"data": {"name": "ann"}, "transform": [{"filter": "datum.p === 'Cz' && datum.k === 'name'"}],
 "mark": {"type": "text", "font": "Liberation Serif", "fontSize": 12.5, "align": "left", "color": "#111"},
 "encoding": {
  "x": {"field": "t", "type": "quantitative", "axis": null},
  "y": {"field": "v", "type": "quantitative", "axis": null},
  "text": {"field": "s"}
 }}
],
"resolve": {"axis": {"x": "independent", "y": "independent"}}
},
{
"width": 201, "height": 160,
"layer": [
{"mark": {"type": "rule", "color": "#555", "strokeWidth": 1}, "encoding": {"y": {"datum": 0, "type": "quantitative", "scale": {"domain": [-17, 17], "reverse": true, "nice": false, "zero": false}, "axis": {"orient": "right", "values": [-15,-10,-5,0,5,10,15], "labels": false, "title": null}}}},
{"data": {"name": "erp"}, "transform": [{"filter": "datum.p === 'Pz'"}],
 "mark": {"type": "line", "interpolate": "monotone", "strokeWidth": 1.5},
 "encoding": {
  "x": {"field": "t", "type": "quantitative", "scale": {"domain": [0, 1000], "nice": false}, "axis": {"orient": "bottom", "values": [0,100,200,300,400,500,600,700,800,900,1000], "format": "d", "labels": true, "labelFlush": false, "labelPadding": -1, "labelFontSize": 13.5, "labelExpr": "datum.value % 500 === 0 ? datum.label : ''", "title": "ms", "titleFontSize": 13, "titlePadding": 0}},
  "y": {"field": "v", "type": "quantitative", "axis": {"orient": "left", "values": [-15,-10,-5,0,5,10,15], "labels": true, "labelFlush": false, "labelPadding": 2, "labelFontSize": 13, "title": "µV", "titleFontSize": 16, "titlePadding": 4}},
  "color": {"field": "c", "type": "nominal", "scale": {"domain": ["Control Go","LCPUFA Go","Control No-Go","LCPUFA No-Go"], "range": ["#f01e23","#2228dc","#f01e23","#2228dc"]},
   "legend": {"orient": "none", "legendX": 108, "legendY": 12, "title": null, "symbolType": "M-2.5,0H2.5", "symbolSize": 64, "symbolStrokeWidth": 1.5, "labelFont": "Liberation Serif", "labelFontSize": 9.5, "labelOffset": 10, "rowPadding": -1, "padding": 0}},
  "strokeDash": {"field": "c", "type": "nominal", "scale": {"domain": ["Control Go","LCPUFA Go","Control No-Go","LCPUFA No-Go"], "range": [[1,0],[1,0],[3,2],[3,2]]},
   "legend": {"orient": "none", "legendX": 108, "legendY": 12, "title": null, "symbolType": "M-2.5,0H2.5", "symbolSize": 64, "symbolStrokeWidth": 1.5, "labelFont": "Liberation Serif", "labelFontSize": 9.5, "labelOffset": 10, "rowPadding": -1, "padding": 0}}
 }},
{"data": {"name": "ann"}, "transform": [{"filter": "datum.p === 'Pz' && datum.k === 'peak'"}],
 "mark": {"type": "text", "font": "Liberation Serif", "fontStyle": "italic", "fontSize": 15, "color": "#111"},
 "encoding": {
  "x": {"field": "t", "type": "quantitative", "axis": {"orient": "top", "values": [0,100,200,300,400,500,600,700,800,900,1000], "labels": false, "title": null}},
  "y": {"field": "v", "type": "quantitative", "axis": null},
  "text": {"field": "s"}
 }},
{"data": {"name": "ann"}, "transform": [{"filter": "datum.p === 'Pz' && datum.k === 'name'"}],
 "mark": {"type": "text", "font": "Liberation Serif", "fontSize": 12.5, "align": "left", "color": "#111"},
 "encoding": {
  "x": {"field": "t", "type": "quantitative", "axis": null},
  "y": {"field": "v", "type": "quantitative", "axis": null},
  "text": {"field": "s"}
 }}
],
"resolve": {"axis": {"x": "independent", "y": "independent"}}
}
],
"config": {
 "font": "Liberation Serif",
 "view": {"stroke": "#333", "strokeWidth": 1},
 "axis": {"domain": false, "grid": false, "tickSize": -3, "tickColor": "#333", "tickWidth": 1, "labelFont": "Liberation Serif", "labelFontSize": 13, "labelColor": "#000", "titleFont": "Liberation Serif", "titleFontSize": 14, "titleFontWeight": "normal", "titleColor": "#000"}
}
}
